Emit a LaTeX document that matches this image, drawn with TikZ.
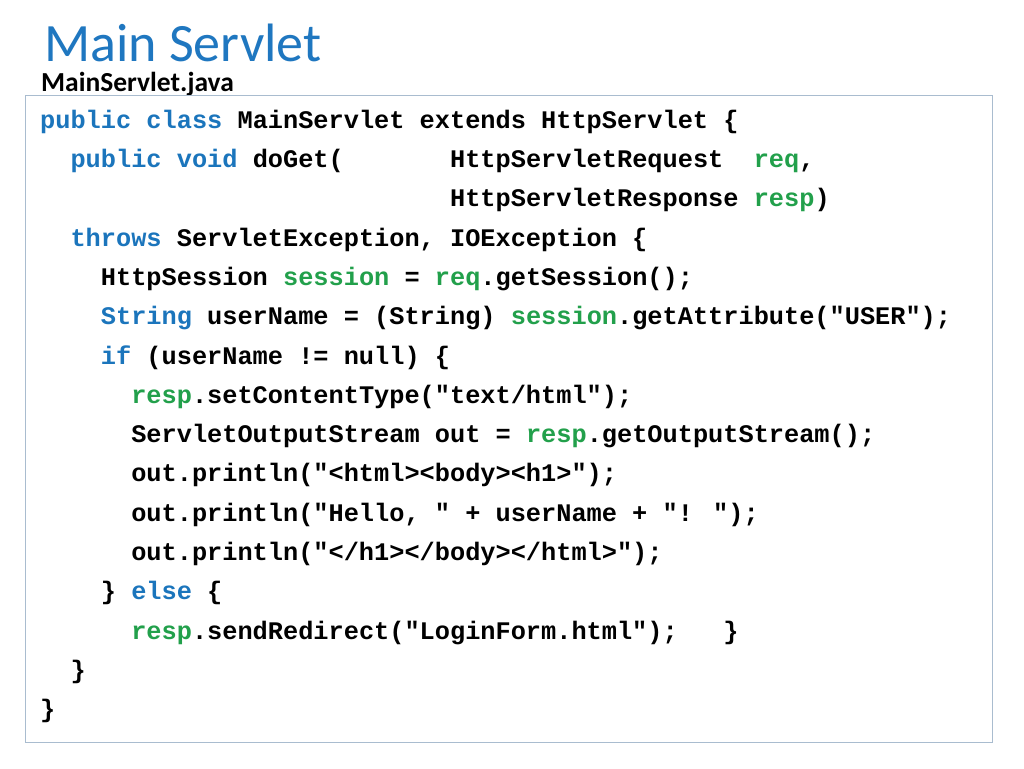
\documentclass[tikz,border=0pt]{standalone}
\usepackage{fontspec}
\setmainfont{Carlito}
\newfontfamily\codefont{Liberation Mono}
\definecolor{kw}{HTML}{1B75BC}
\definecolor{vr}{HTML}{22A04B}
\definecolor{ttl}{HTML}{1F77C0}
\definecolor{frm}{HTML}{A9BCCF}
\newcommand{\K}[1]{\textcolor{kw}{#1}}
\newcommand{\V}[1]{\textcolor{vr}{#1}}
\begin{document}
\begin{tikzpicture}[x=1pt,y=1pt,
  code/.style={anchor=base west,inner sep=0pt,font=\codefont\bfseries\fontsize{25.3}{30}\selectfont}]
\useasboundingbox (0,0) rectangle (1024,-768);
\fill[white] (0,0) rectangle (1024,-768);
\node[anchor=base west,inner sep=0pt,text=ttl,font=\fontsize{54}{58}\selectfont] (title) at (44,-62) {Main Servlet};
\node[anchor=base west,inner sep=0pt,font=\bfseries\fontsize{27.5}{30}\selectfont] (file) at (41,-91) {MainServlet.java};
\draw[frm,line width=1pt] (25,-95) rectangle (992,-742);
\node[code] (l1) at (40,-128) {\K{public} \K{class} MainServlet extends HttpServlet \{};
\node[code] (l2) at (40,-167) {~~\K{public} \K{void} doGet(~~~~~~~HttpServletRequest~~\V{req},};
\node[code] (l3) at (40,-206) {~~~~~~~~~~~~~~~~~~~~~~~~~~~HttpServletResponse~\V{resp})};
\node[code] (l4) at (40,-246) {~~\K{throws} ServletException, IOException \{};
\node[code] (l5) at (40,-285) {~~~~HttpSession \V{session} = \V{req}.getSession();};
\node[code] (l6) at (40,-324) {~~~~\K{String} userName = (String) \V{session}.getAttribute("USER");};
\node[code] (l7) at (40,-364) {~~~~\K{if} (userName != null) \{};
\node[code] (l8) at (40,-403) {~~~~~~\V{resp}.setContentType("text/html");};
\node[code] (l9) at (40,-442) {~~~~~~ServletOutputStream out = \V{resp}.getOutputStream();};
\node[code] (l10) at (40,-481) {~~~~~~out.println("<html><body><h1>");};
\node[code] (l11) at (40,-521) {~~~~~~out.println("Hello, " + userName + "! ");};
\node[code] (l12) at (40,-560) {~~~~~~out.println("</h1></body></html>");};
\node[code] (l13) at (40,-599) {~~~~\} \K{else} \{};
\node[code] (l14) at (40,-639) {~~~~~~\V{resp}.sendRedirect("LoginForm.html");~~~\}};
\node[code] (l15) at (40,-678) {~~\}};
\node[code] (l16) at (40,-717) {\}};
\end{tikzpicture}
\end{document}
